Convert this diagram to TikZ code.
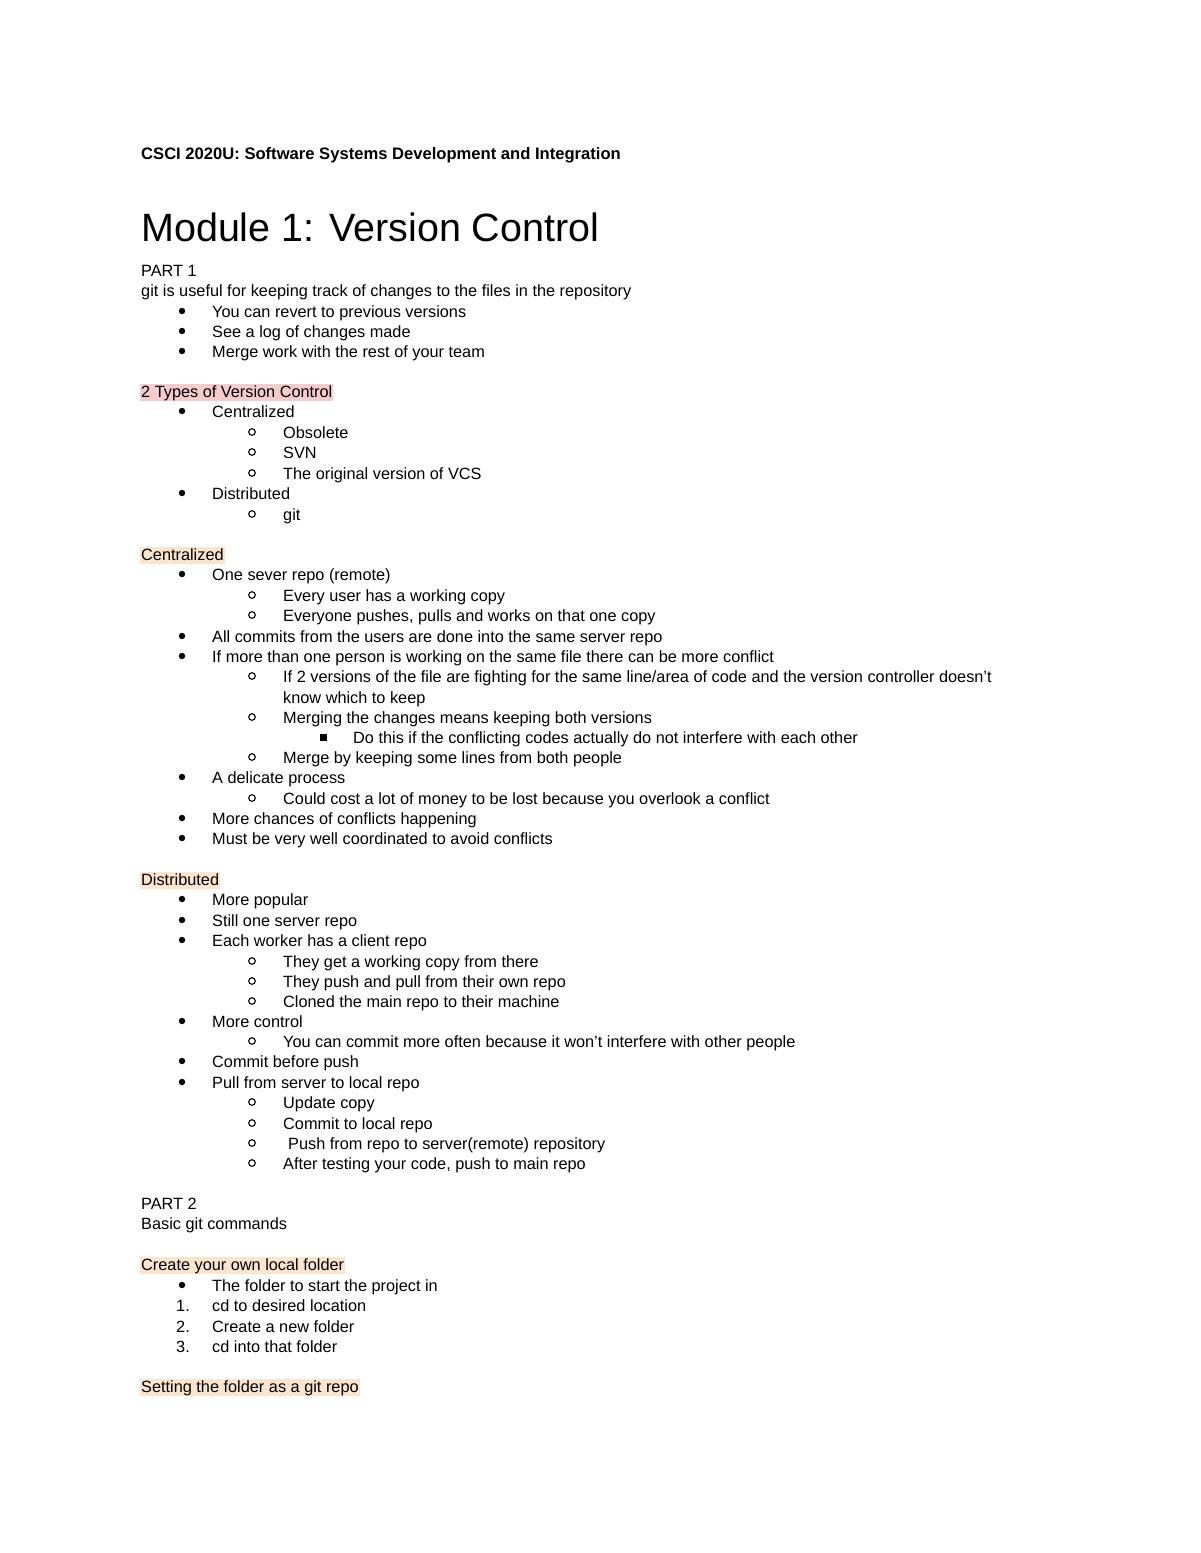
\documentclass[tikz,border=0pt]{standalone}
\usepackage{fontspec}
\setmainfont{Liberation Sans}
\definecolor{hlpink}{HTML}{F4CCCC}
\definecolor{hlyel}{HTML}{FCE5CD}
\newcommand{\tl}[3]{\node[txt] at (#2,#1+6) {#3};}
\newcommand{\bA}[2]{\fill (182,#1) circle (3.2); \tl{#1}{212}{#2}}
\newcommand{\bB}[2]{\draw[line width=1.1] (252,#1) circle (3.3); \tl{#1}{283}{#2}}
\newcommand{\bC}[2]{\fill (320,#1-3.5) rectangle (327,#1+3.5); \tl{#1}{353}{#2}}
\newcommand{\hl}[3]{\node[txt,fill=#2,inner xsep=1,text height=13,text depth=4] at (140,#1+6) {#3};}
\newcommand{\nm}[3]{\tl{#1}{176}{#2}\tl{#1}{212}{#3}}
\begin{document}
\begin{tikzpicture}[x=1pt,y=-1pt,
  txt/.style={anchor=base west,inner sep=0,font=\fontsize{16.3}{19}\selectfont}]
\useasboundingbox (0,0) rectangle (1200,1553);
\node[txt,font=\bfseries\fontsize{16.6}{19}\selectfont] at (141,159) {CSCI 2020U: Software Systems Development and Integration};
\node[txt,font=\fontsize{39.5}{44}\selectfont] at (141,241) {Module 1: Version Control};
\tl{270}{141}{PART 1}
\tl{290}{141}{git is useful for keeping track of changes to the files in the repository}
\bA{311}{You can revert to previous versions}
\bA{331}{See a log of changes made}
\bA{351}{Merge work with the rest of your team}
\hl{391}{hlpink}{2 Types of Version Control}
\bA{411}{Centralized}
\bB{432}{Obsolete}
\bB{452}{SVN}
\bB{473}{The original version of VCS}
\bA{493}{Distributed}
\bB{514}{git}
\hl{554}{hlyel}{Centralized}
\bA{574}{One sever repo (remote)}
\bB{595}{Every user has a working copy}
\bB{615}{Everyone pushes, pulls and works on that one copy}
\bA{636}{All commits from the users are done into the same server repo}
\bA{656}{If more than one person is working on the same file there can be more conflict}
\bB{676}{If 2 versions of the file are fighting for the same line/area of code and the version controller doesn't}
\tl{697}{283}{know which to keep}
\bB{717}{Merging the changes means keeping both versions}
\bC{737}{Do this if the conflicting codes actually do not interfere with each other}
\bB{757}{Merge by keeping some lines from both people}
\bA{777}{A delicate process}
\bB{798}{Could cost a lot of money to be lost because you overlook a conflict}
\bA{818}{More chances of conflicts happening}
\bA{838}{Must be very well coordinated to avoid conflicts}
\hl{879}{hlyel}{Distributed}
\bA{899}{More popular}
\bA{920}{Still one server repo}
\bA{940}{Each worker has a client repo}
\bB{961}{They get a working copy from there}
\bB{981}{They push and pull from their own repo}
\bB{1001}{Cloned the main repo to their machine}
\bA{1021}{More control}
\bB{1041}{You can commit more often because it won't interfere with other people}
\bA{1061}{Commit before push}
\bA{1082}{Pull from server to local repo}
\bB{1102}{Update copy}
\bB{1123}{Commit to local repo}
\bB{1143}{\hspace{5pt}Push from repo to server(remote) repository}
\bB{1163}{After testing your code, push to main repo}
\tl{1203}{141}{PART 2}
\tl{1223}{141}{Basic git commands}
\hl{1264}{hlyel}{Create your own local folder}
\bA{1285}{The folder to start the project in}
\nm{1305}{1.}{cd to desired location}
\nm{1326}{2.}{Create a new folder}
\nm{1346}{3.}{cd into that folder}
\hl{1386}{hlyel}{Setting the folder as a git repo}
\end{tikzpicture}
\end{document}
